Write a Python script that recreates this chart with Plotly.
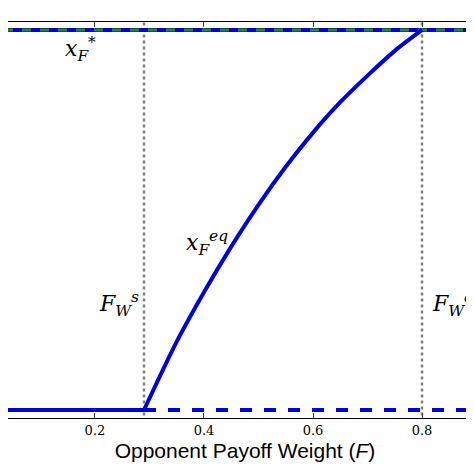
import plotly.graph_objects as go

# opponent payoff weight F and equilibrium strategy
f_eq = [0.0, 0.29, 0.35, 0.40, 0.45, 0.50, 0.55, 0.60, 0.65, 0.70, 0.75, 0.80, 0.95]
x_eq = [0.0, 0.0, 0.18, 0.31, 0.43, 0.54, 0.64, 0.73, 0.81, 0.88, 0.945, 1.0, 1.0]
f_opt = [0.0, 0.95]
x_opt = [1.0, 1.0]
f_low = [0.29, 0.95]
x_low = [0.0, 0.0]
f_s, f_a = 0.29, 0.80

fig = go.Figure()
for fv in (f_s, f_a):
    fig.add_trace(go.Scatter(x=[fv, fv], y=[-0.03, 1.03], mode='lines',
                             line=dict(color='gray', width=2.5, dash='dot')))
fig.add_trace(go.Scatter(x=f_low, y=x_low, mode='lines',
                         line=dict(color='#0000dd', width=4, dash='dash')))
fig.add_trace(go.Scatter(x=f_opt, y=x_opt, mode='lines',
                         line=dict(color='#0000dd', width=4)))
fig.add_trace(go.Scatter(x=f_opt, y=x_opt, mode='lines',
                         line=dict(color='#228b22', width=3, dash='dash')))
fig.add_trace(go.Scatter(x=f_eq[1:-1], y=x_eq[1:-1], mode='lines',
                         line=dict(color='#0000dd', width=4, shape='spline', smoothing=0.8)))
fig.add_trace(go.Scatter(x=f_eq[:2], y=x_eq[:2], mode='lines',
                         line=dict(color='#0000dd', width=4)))

serif = dict(family='DejaVu Serif', size=22, color='black')
labels = [
    (0.174, 0.95, 'x<sub>F</sub><sup>*</sup>'),
    (0.405, 0.44, 'x<sub>F</sub><sup>eq</sup>'),
    (0.244, 0.28, 'F<sub>W</sub><sup>s</sup>'),
    (0.855, 0.28, 'F<sub>W</sub><sup>a</sup>'),
]
for lx, ly, txt in labels:
    fig.add_annotation(x=lx, y=ly, text='<i>' + txt + '</i>', showarrow=False, font=serif)

fig.update_layout(
    width=474, height=474, showlegend=False,
    plot_bgcolor='white', paper_bgcolor='white',
    margin=dict(l=0, r=0, t=14, b=64),
)
fig.update_xaxes(range=[0.0405, 0.91], tickvals=[0.2, 0.4, 0.6, 0.8],
                 ticktext=['0.2', '0.4', '0.6', '0.8'],
                 ticks='inside', ticklen=5, showline=True, linecolor='black',
                 mirror='ticks', showgrid=False, zeroline=False,
                 tickfont=dict(family='DejaVu Serif', size=13, color='black'),
                 title=dict(text='Opponent Payoff Weight (<i>F</i>)',
                            font=dict(family='Liberation Sans', size=21, color='black'), standoff=6))
fig.update_yaxes(range=[-0.021, 1.021], showticklabels=False, showgrid=False,
                 zeroline=False, showline=False)

fig.write_html("out.html")
